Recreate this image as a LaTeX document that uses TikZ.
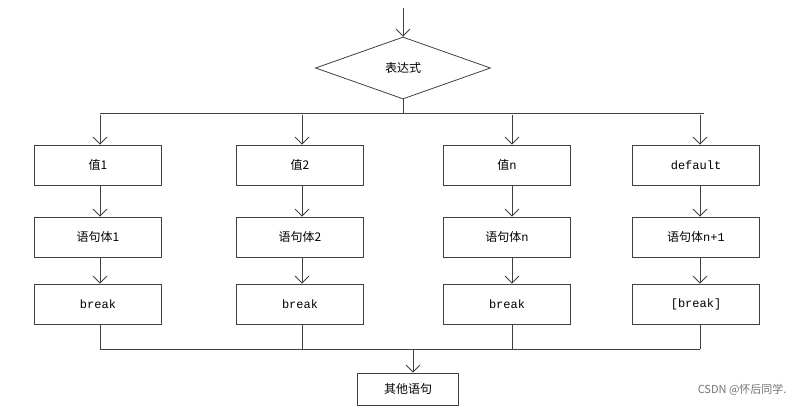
\documentclass[tikz,border=0pt]{standalone}
\usepackage{fontspec}
\setmonofont{Liberation Mono}
\newfontfamily\cjk{Noto Sans CJK SC}
\usetikzlibrary{arrows.meta,shapes.geometric}
\begin{document}
\begin{tikzpicture}[x=1pt,y=-1pt,
  box/.style={draw=black!75,line width=0.8pt,minimum width=127pt,minimum height=40pt,inner sep=0pt,font=\cjk\fontsize{12}{12}\selectfont},
  arr/.style={draw=black!75,line width=0.8pt,-{Straight Barb[length=7pt,width=14pt]}},
  ln/.style={draw=black!75,line width=0.8pt}]
\useasboundingbox (0,0) rectangle (800,411);
\node[draw=black!75,line width=0.8pt,diamond,aspect=2.8,minimum width=175pt,minimum height=62pt,inner sep=0pt,font=\cjk\fontsize{12}{12}\selectfont] (d) at (403,68) {表达式};
\coordinate (top) at (403,8);
\draw[arr] (top) -- (d.north);
\coordinate (bl) at (100,113); \coordinate (br) at (704,113);
\coordinate (dm) at (403,113);
\draw[ln] (d.south) -- (dm);
\draw[ln] (bl) -- (br);
\foreach \i/\x/\ax/\a/\b/\c in {1/98/100/值1/语句体1/{\ttfamily break},2/300/302/值2/语句体2/{\ttfamily break},3/507/512/值{\ttfamily n}/语句体{\ttfamily n}/{\ttfamily break},4/696/700/{\ttfamily default}/语句体{\ttfamily n+1}/{\ttfamily [break]}}{
  \node[box] (v\i) at (\x,165) {\a};
  \node[box] (s\i) at (\x,237) {\b};
  \node[box] (b\i) at (\x,304) {\c};
  \coordinate (t\i) at (\ax,115);
  \coordinate (u\i) at (\ax,349);
  \draw[arr] (t\i) -- (t\i |- v\i.north);
  \draw[arr] (t\i |- v\i.south) -- (t\i |- s\i.north);
  \draw[arr] (t\i |- s\i.south) -- (t\i |- b\i.north);
  \draw[ln] (t\i |- b\i.south) -- (u\i);
}
\draw[ln] (u1) -- (u4);
\node[box,minimum width=101pt,minimum height=32pt] (e) at (408,389) {其他语句};
\coordinate (em) at (413,349);
\draw[arr] (em) -- (em |- e.north);
\node[text=black!55,font=\cjk\fontsize{11}{11}\selectfont,anchor=east] (w) at (790,390) {CSDN @怀后同学.};
\end{tikzpicture}
\end{document}
